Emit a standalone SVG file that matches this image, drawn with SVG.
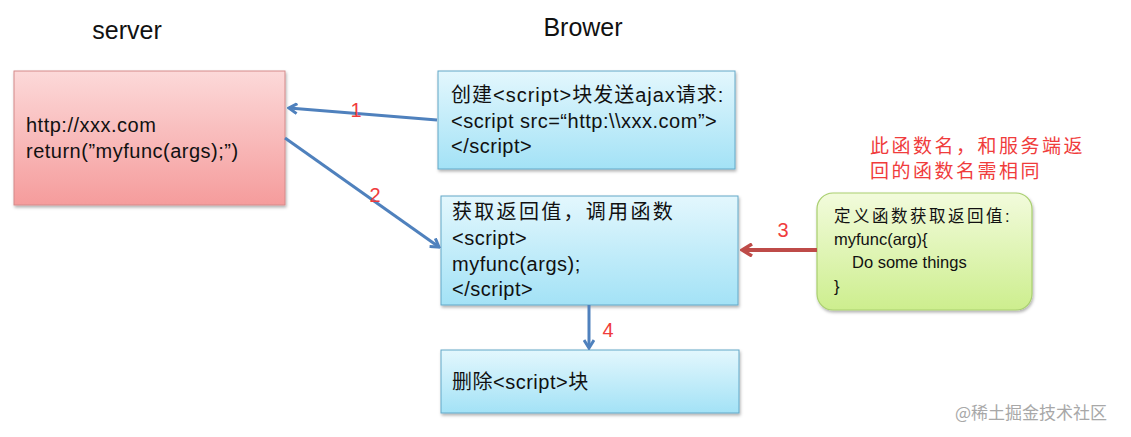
<svg xmlns="http://www.w3.org/2000/svg" width="1131" height="437" viewBox="0 0 1131 437">
<style>
.t{font-family:"Liberation Sans","Noto Sans CJK SC",sans-serif;fill:#111}
.b{font-size:20px;letter-spacing:0.5px}
.h{font-size:25px}
.g{font-size:16.5px}
.r{font-family:"Liberation Sans","Noto Sans CJK SC",sans-serif;fill:#f03c3c}
.n{font-size:20px}
.blue{fill:url(#gb);stroke:#62a8c8;stroke-width:1}
.ab{fill:none;stroke:#4f81bd;stroke-width:3}
.ar{fill:none;stroke:#be4b48;stroke-width:4}
</style>
<defs>
<linearGradient id="gr" x1="0" y1="0" x2="0" y2="1">
<stop offset="0" stop-color="#fcd9d9"/><stop offset="1" stop-color="#f59c9c"/>
</linearGradient>
<linearGradient id="gb" x1="0" y1="0" x2="0" y2="1">
<stop offset="0" stop-color="#e3f7fd"/><stop offset="1" stop-color="#a3e2f6"/>
</linearGradient>
<linearGradient id="gg" x1="0" y1="0" x2="0" y2="1">
<stop offset="0" stop-color="#f2fbdc"/><stop offset="1" stop-color="#cdee8e"/>
</linearGradient>
<filter id="sh" x="-10%" y="-10%" width="120%" height="130%">
<feDropShadow dx="1" dy="2" stdDeviation="1.5" flood-color="#000" flood-opacity="0.3"/>
</filter>
<marker id="mb" viewBox="0 0 12 12" refX="10" refY="6" markerWidth="12" markerHeight="12" markerUnits="userSpaceOnUse" orient="auto">
<path d="M2,1 L10,6 L2,11" fill="none" stroke="#4f81bd" stroke-width="3"/>
</marker>
<marker id="mr" viewBox="0 0 14 14" refX="12" refY="7" markerWidth="14" markerHeight="14" markerUnits="userSpaceOnUse" orient="auto">
<path d="M2,1 L12,7 L2,13" fill="none" stroke="#be4b48" stroke-width="3.5"/>
</marker>
</defs>
<rect width="1131" height="437" fill="#fff"/>
<text class="t h" x="127" y="39" text-anchor="middle">server</text>
<text class="t h" x="583" y="36" text-anchor="middle">Brower</text>
<g id="server">
<rect x="14" y="71" width="271" height="134" fill="url(#gr)" stroke="#d48a8a" stroke-width="1" filter="url(#sh)"/>
<text class="t b" x="26" y="132">http://xxx.com</text>
<text class="t b" x="26" y="158">return(”myfunc(args);”)</text>
</g>
<g id="create">
<rect class="blue" x="438" y="71" width="297" height="98" filter="url(#sh)"/>
<text class="t b" x="451" y="102" style="letter-spacing:1px">创建&lt;script&gt;块发送ajax请求:</text>
<text class="t b" x="451" y="128">&lt;script src=“http:\\xxx.com”&gt;</text>
<text class="t b" x="451" y="153">&lt;/script&gt;</text>
</g>
<g id="call">
<rect class="blue" x="441" y="196" width="297" height="109" filter="url(#sh)"/>
<text class="t b" x="452" y="219" style="letter-spacing:2.3px">获取返回值，调用函数</text>
<text class="t b" x="452" y="245">&lt;script&gt;</text>
<text class="t b" x="452" y="271">myfunc(args);</text>
<text class="t b" x="452" y="296">&lt;/script&gt;</text>
</g>
<g id="remove">
<rect class="blue" x="441" y="350" width="298" height="63" filter="url(#sh)"/>
<text class="t b" x="452" y="389">删除&lt;script&gt;块</text>
</g>
<g id="define">
<rect x="817" y="193" width="215" height="117" rx="16" ry="16" fill="url(#gg)" stroke="#a9cf6f" stroke-width="1.2" filter="url(#sh)"/>
<text class="t g" x="834" y="222" letter-spacing="2.5">定义函数获取返回值:</text>
<text class="t g" x="834" y="245">myfunc(arg){</text>
<text class="t g" x="852" y="268">Do some things</text>
<text class="t g" x="834" y="292">}</text>
</g>
<g id="note">
<text class="r" font-size="19" x="870" y="153" letter-spacing="2.5">此函数名，和服务端返</text>
<text class="r" font-size="19" x="870" y="178" letter-spacing="2.5">回的函数名需相同</text>
</g>
<g id="connectors">
<line class="ab" x1="437" y1="120" x2="289" y2="108" marker-end="url(#mb)"/>
<line class="ab" x1="285" y1="138" x2="439" y2="247" marker-end="url(#mb)"/>
<line class="ar" x1="817" y1="250" x2="742" y2="250" marker-end="url(#mr)"/>
<line class="ab" x1="589" y1="305" x2="589" y2="348" marker-end="url(#mb)"/>
<text class="r n" x="356" y="117" text-anchor="middle">1</text>
<text class="r n" x="375" y="202" text-anchor="middle">2</text>
<text class="r n" x="783" y="237" text-anchor="middle">3</text>
<text class="r n" x="608" y="337" text-anchor="middle">4</text>
</g>
<text x="955" y="419" font-family="&quot;Noto Sans CJK SC&quot;,sans-serif" font-size="17" fill="#a8a8a8">@稀土掘金技术社区</text>
</svg>
